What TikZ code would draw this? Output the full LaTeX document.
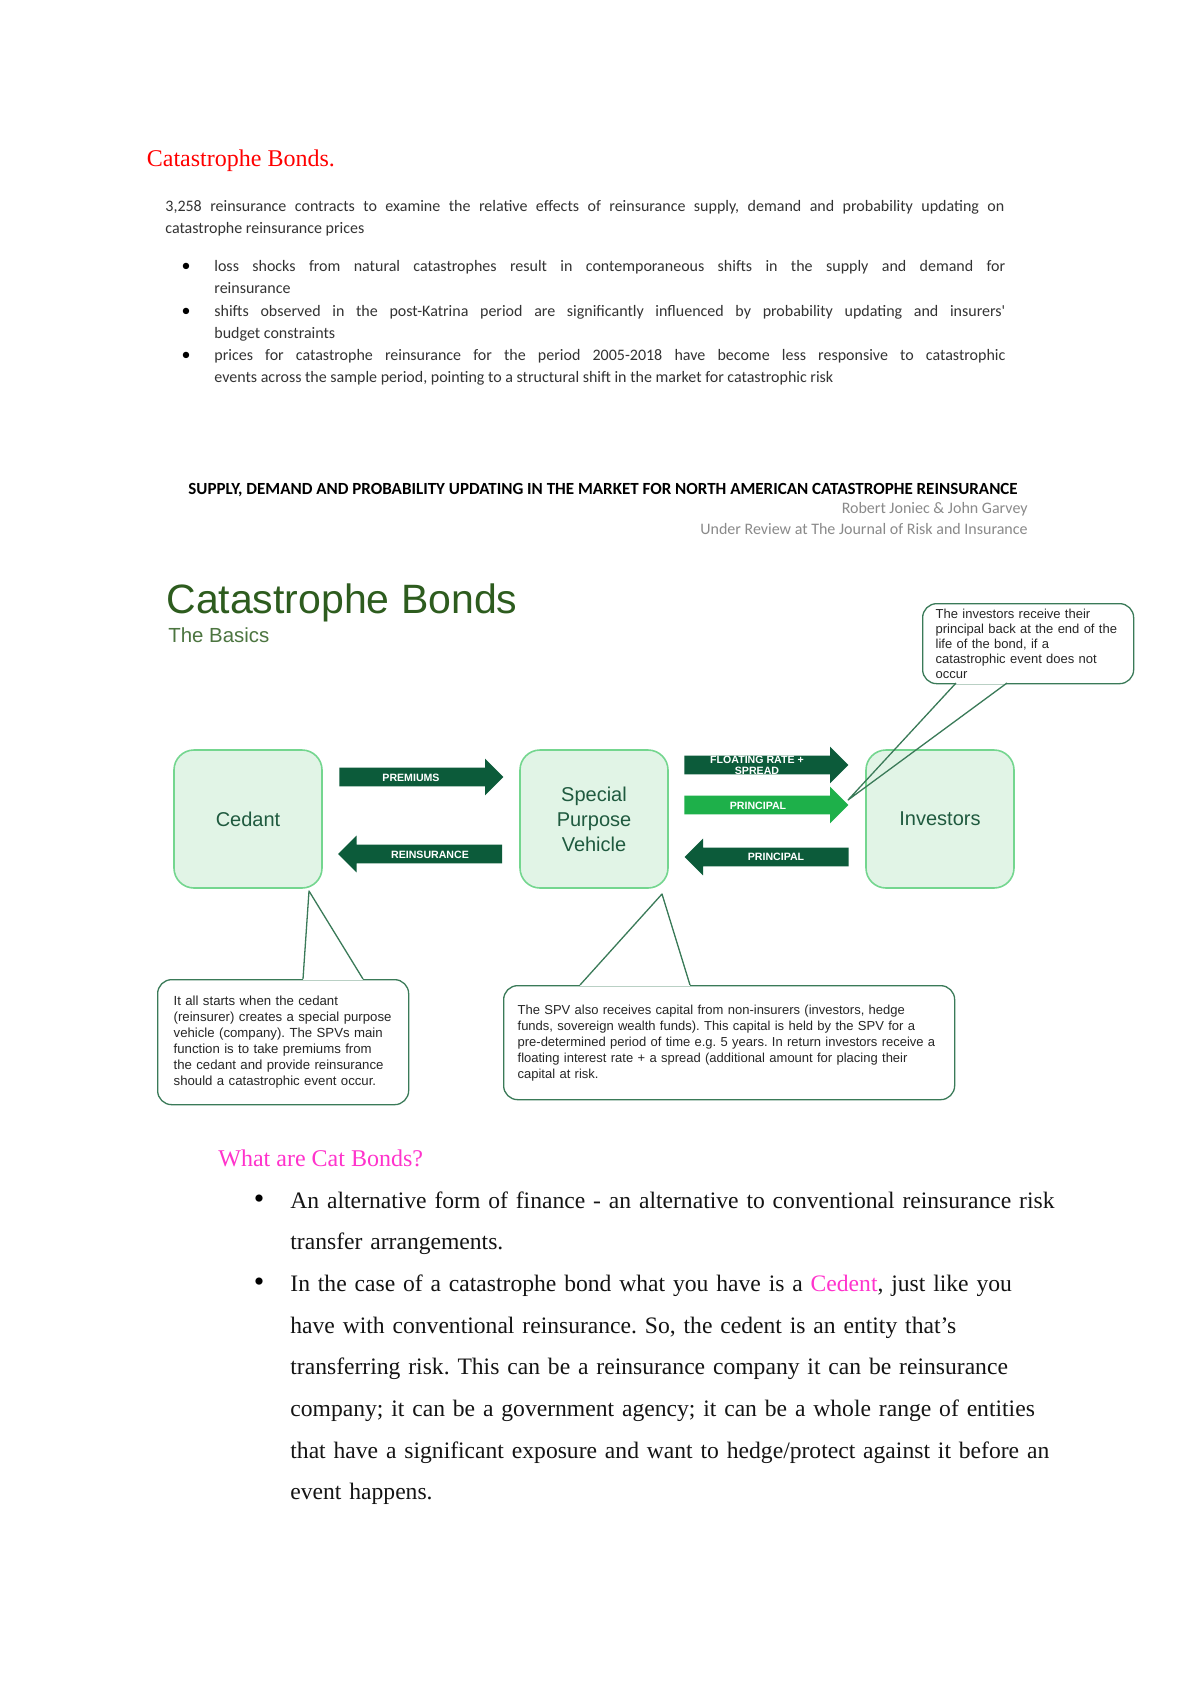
\documentclass[tikz,border=0pt]{standalone}
\usepackage{fontspec}
\usepackage{graphicx}
\setmainfont{Liberation Serif}
\newfontfamily\calib{Carlito}
\newfontfamily\arialf{Liberation Sans}
\usetikzlibrary{shapes.arrows}
\frenchspacing
\definecolor{catred}{HTML}{FF0000}
\definecolor{catpink}{HTML}{FF33CC}
\definecolor{headgray}{HTML}{8A8A8A}
\definecolor{titlegreen}{HTML}{2D5C1E}
\definecolor{boxfill}{HTML}{E1F4E6}
\definecolor{boxline}{HTML}{74D68F}
\definecolor{boxtext}{HTML}{1F5A3F}
\definecolor{arrdark}{HTML}{0C5B3A}
\definecolor{arrlight}{HTML}{1EB04A}
\definecolor{noteline}{HTML}{3A7A58}
\definecolor{notetext}{HTML}{262626}

\begin{document}
\begin{tikzpicture}[x=0.5pt, y=-0.5pt, line join=round,
  box/.style={draw=boxline, fill=boxfill, line width=0.8pt, rounded corners=10pt, minimum width=74pt, minimum height=69pt, inner sep=0pt, align=center, text=boxtext, font=\arialf\fontsize{10}{12.5}\selectfont},
  blk/.style={single arrow, single arrow tip angle=90, single arrow head extend=4.5pt, minimum height=82pt, minimum width=18pt, inner xsep=0pt, inner ysep=4.5pt, anchor=tail, draw=none},
  blklbl/.style={text=white, inner sep=0pt, align=center, font=\arialf\bfseries\fontsize{5.3}{5.4}\selectfont},
  note/.style={draw=noteline, fill=white, line width=0.65pt, rounded corners=7pt, anchor=north west, inner ysep=0pt, align=left, text=notetext, font=\arialf\fontsize{6.6}{8}\selectfont},
  notetail/.style={draw=noteline, line width=0.65pt},
  para/.style={anchor=base west, inner sep=0pt, align=justify, text=black!80, font=\calib\fontsize{8}{11.15}\selectfont},
  body/.style={anchor=base west, inner sep=0pt, align=left, text width=440pt, text=black!92, font=\fontsize{11.8}{20.85}\selectfont}]
\useasboundingbox (0,0) rectangle (1200,1698);
\fill[white] (0,0) rectangle (1200,1698);

\node[anchor=base west, inner sep=0pt, text=catred, font=\fontsize{12}{14}\selectfont] (title) at (146.5,166.5) {Catastrophe Bonds.};

\node[para, text width=419.5pt] (intro) at (165,211.5) {3,258 reinsurance contracts to examine the relative effects of reinsurance supply, demand and probability updating on\linebreak catastrophe reinsurance prices};
\foreach \y/\n in {271.5/1, 316/2, 360/3}
  \node[anchor=base, inner sep=0pt, font=\calib\fontsize{9}{10}\selectfont] (dot\n) at (186,\y) {\textbullet};
\node[para, text width=395.5pt] (pt1) at (214,271.5) {loss shocks from natural catastrophes result in contemporaneous shifts in the supply and demand for\linebreak reinsurance};
\node[para, text width=395.5pt] (pt2) at (214,316) {shifts observed in the post-Katrina period are significantly influenced by probability updating and insurers'\linebreak budget constraints};
\node[para, text width=395.5pt] (pt3) at (214,360) {prices for catastrophe reinsurance for the period 2005-2018 have become less responsive to catastrophic\linebreak events across the sample period, pointing to a structural shift in the market for catastrophic risk};

\node[anchor=base west, inner sep=0pt, font=\calib\bfseries\fontsize{8.5}{10}\selectfont] (paper) at (188,494) {SUPPLY, DEMAND AND PROBABILITY UPDATING IN THE MARKET FOR NORTH AMERICAN CATASTROPHE REINSURANCE};
\node[anchor=base east, inner sep=0pt, text=headgray, font=\calib\fontsize{8}{10}\selectfont] (authors) at (1028,513) {Robert Joniec \& John Garvey};
\node[anchor=base east, inner sep=0pt, text=headgray, font=\calib\fontsize{8}{10}\selectfont] (journal) at (1028,534) {Under Review at The Journal of Risk and Insurance};

\node[anchor=base west, inner sep=0pt, text=titlegreen, font=\arialf\fontsize{20.5}{24}\selectfont] (bigtitle) at (166,613.5) {Catastrophe Bonds};
\node[anchor=base west, inner sep=0pt, text=titlegreen!85, font=\arialf\fontsize{10.2}{12}\selectfont] (basics) at (168,642) {The Basics};

\node[box] (cedant) at (248,819) {Cedant};
\node[box] (spv) at (594,819) {Special\\Purpose\\Vehicle};
\node[box] (inv) at (940,819) {Investors};

\node[blk, fill=arrdark] (prem) at (339,777) {};
\node[blk, fill=arrdark, shape border rotate=180] (reins) at (502.6,854) {};
\node[blk, fill=arrdark] (float) at (684,765) {};
\node[blk, fill=arrlight] (princ) at (684,805) {};
\node[blk, fill=arrdark, shape border rotate=180] (princback) at (849,857) {};
\node[blklbl] (premlbl) at (411,778) {PREMIUMS};
\node[blklbl] (reinslbl) at (430,855) {REINSURANCE};
\node[blklbl] (floatlbl) at (757,765) {FLOATING RATE +\\SPREAD};
\node[blklbl] (princlbl) at (758,806) {PRINCIPAL};
\node[blklbl] (backlbl) at (776,857) {PRINCIPAL};

\node[note, minimum height=40pt, text width=92.5pt, inner xsep=6.5pt, font=\arialf\fontsize{6.5}{7.5}\selectfont] (invnote) at (922,603) {The investors receive their\\principal back at the end of the\\life of the bond, if a\\catastrophic event does not\\occur};
\node[note, minimum height=62.5pt, text width=109.5pt, inner xsep=8pt] (cednote) at (157,979) {It all starts when the cedant\\(reinsurer) creates a special purpose\\vehicle (company). The SPVs main\\function is to take premiums from\\the cedant and provide reinsurance\\should a catastrophic event occur.};
\node[note, minimum height=57pt, text width=211.5pt, inner xsep=7pt, font=\arialf\fontsize{6.5}{8}\selectfont] (spvnote) at (503,985) {The SPV also receives capital from non-insurers (investors, hedge\\funds, sovereign wealth funds). This capital is held by the SPV for a\\pre-determined period of time e.g. 5 years. In return investors receive a\\floating interest rate + a spread (additional amount for placing their\\capital at risk.};

\coordinate (invtip) at (848,800);
\coordinate (inva) at (956,683);
\coordinate (invb) at (1007,683);
\coordinate (cedtip) at (309,891);
\coordinate (ceda) at (303,979);
\coordinate (cedb) at (363,979);
\coordinate (spvtip) at (662,894);
\coordinate (spva) at (580,985);
\coordinate (spvb) at (690,985);
\draw[white, line width=1.4pt] (inva) -- (invb);
\draw[white, line width=1.4pt] (ceda) -- (cedb);
\draw[white, line width=1.4pt] (spva) -- (spvb);
\draw[notetail] (inva) -- (invtip) -- (invb);
\draw[notetail] (ceda) -- (cedtip) -- (cedb);
\draw[notetail] (spva) -- (spvtip) -- (spvb);

\node[anchor=base west, inner sep=0pt, text=catpink, font=\fontsize{12}{14}\selectfont] (what) at (218,1166) {What are Cat Bonds?};
\foreach \y/\n in {1208/1, 1291.4/2}
  \node[anchor=base, inner sep=0pt, font=\fontsize{15}{16}\selectfont] (bdot\n) at (259,\y) {\textbullet};
\node[body] (catb1) at (290,1208) {An alternative form of finance - an alternative to conventional reinsurance risk\\transfer arrangements.};
\node[body] (catb2) at (290,1291.4) {In the case of a catastrophe bond what you have is a \textcolor{catpink}{Cedent}, just like you\\have with conventional reinsurance. So, the cedent is an entity that’s\\transferring risk. This can be a reinsurance company it can be reinsurance\\company; it can be a government agency; it can be a whole range of entities\\that have a significant exposure and want to hedge/protect against it before an\\event happens.};
\end{tikzpicture}
\end{document}
